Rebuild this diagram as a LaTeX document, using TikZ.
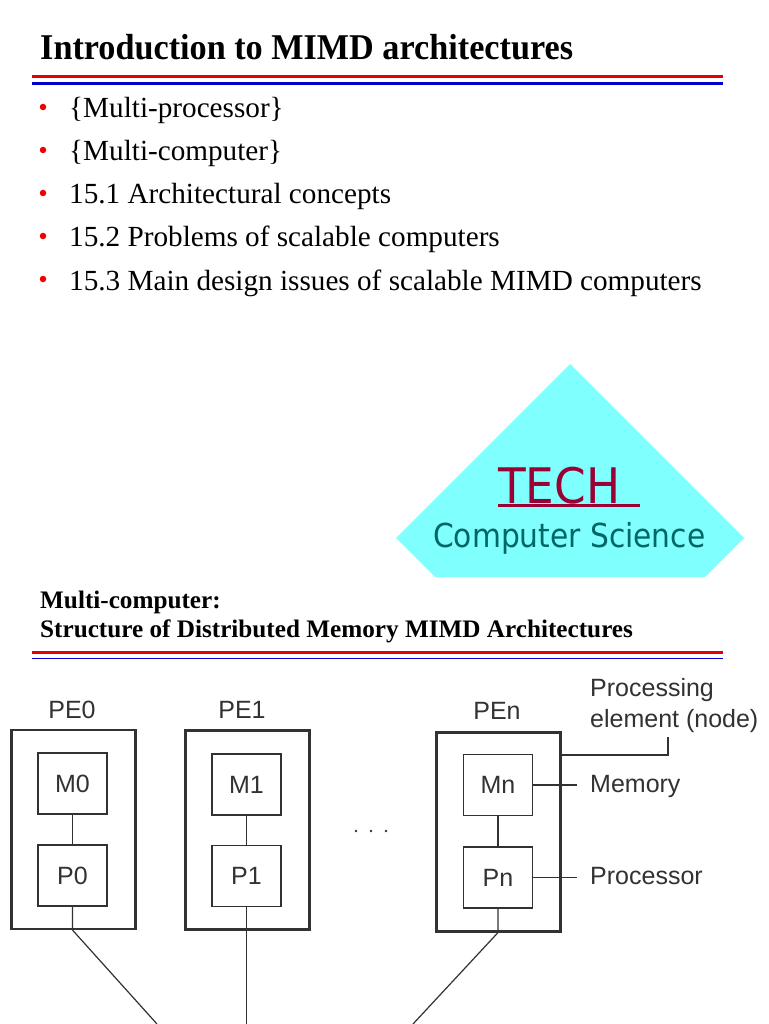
\documentclass[tikz,border=0pt]{standalone}
\usepackage{fontspec}
\setmainfont{Liberation Serif}
\newfontfamily\diafont{Liberation Sans}
\newfontfamily\techfont{DejaVu Sans}
\definecolor{slidered}{RGB}{226,0,0}
\definecolor{slideblue}{RGB}{0,0,204}
\definecolor{bulletred}{RGB}{240,0,0}
\definecolor{techcyan}{RGB}{128,255,255}
\definecolor{techred}{RGB}{153,0,51}
\definecolor{techteal}{RGB}{0,102,102}
\definecolor{diagray}{RGB}{50,50,50}
\tikzset{
  titletext/.style={anchor=base west, inner sep=0, font=\bfseries\fontsize{34.2}{40}\selectfont},
  subtext/.style={anchor=base west, inner sep=0, font=\bfseries\fontsize{25.2}{29}\selectfont},
  itemtext/.style={anchor=base west, inner sep=0, font=\fontsize{29.2}{34}\selectfont},
  bulletdot/.style={circle, fill=bulletred, inner sep=0, minimum size=6.5},
  pebox/.style={draw=diagray, line width=2.1, inner sep=0, minimum width=124, minimum height=199},
  unitbox/.style={draw=diagray, line width=1.6, inner sep=0, minimum width=69, minimum height=61,
                  font=\diafont\fontsize{25}{29}\selectfont, text=diagray},
  pelabel/.style={anchor=base, inner sep=0, font=\diafont\fontsize{25}{29}\selectfont, text=diagray},
  sidelabel/.style={anchor=base west, inner sep=0, font=\diafont\fontsize{25}{29}\selectfont, text=diagray},
  wire/.style={draw=diagray, line width=1.2},
  dotnode/.style={circle, fill=diagray, inner sep=0, minimum size=2.8},
}
\begin{document}
\begin{tikzpicture}[x=1pt, y=-1pt]
\useasboundingbox[fill=white] (0,0) rectangle (768,1024);

% ---- title ----
\node[titletext] (title) at (40,60) {\scalebox{1}[1.06]{Introduction to MIMD architectures}};
\draw[slidered, line width=3.8] (32,76.5) -- (723,76.5);
\draw[slideblue, line width=2.7] (32,83.3) -- (723,83.3);

% ---- bullets ----
\node[itemtext] (i1) at (69,118) {\{Multi-processor\}};
\node[itemtext] (i2) at (69,161) {\{Multi-computer\}};
\node[itemtext] (i3) at (69,204) {15.1 Architectural concepts};
\node[itemtext] (i4) at (69,247) {15.2 Problems of scalable computers};
\node[itemtext] (i5) at (69,290) {15.3 Main design issues of scalable MIMD computers};
\node[bulletdot] (b1) at (43,107) {};
\node[bulletdot] (b2) at (43,150) {};
\node[bulletdot] (b3) at (43,193) {};
\node[bulletdot] (b4) at (43,236) {};
\node[bulletdot] (b5) at (43,279) {};

% ---- TECH badge ----
\fill[techcyan] (570,364) -- (744,538) -- (705,577) -- (435,577) -- (396,538) -- cycle;
\node[anchor=base west, inner sep=0, text=techred] (tech) at (498,503)
  {\scalebox{0.925}[1]{\techfont\fontsize{49}{56}\selectfont TECH}};
\draw[techred, line width=2.4] (tech.base west) ++(0,2.5) -- ++(142,0);
\node[anchor=base west, inner sep=0, text=techteal] (cs) at (433,547)
  {\scalebox{0.9}[1]{\techfont\fontsize{33}{38}\selectfont Computer Science}};

% ---- second header ----
\node[subtext] (sub1) at (40,608) {Multi-computer:};
\node[subtext] (sub2) at (40,637) {Structure of Distributed Memory MIMD Architectures};
\draw[slidered, line width=3.4] (32,652.3) -- (723,652.3);
\draw[slideblue, line width=1.3] (32,658.2) -- (723,658.2);

% ---- diagram ----
\node[pebox] (PE0) at (73.5,829.5) {};
\node[pebox] (PE1) at (247.5,830) {};
\node[pebox] (PEn) at (498.5,832) {};
\node[pelabel] (l0) at (72,718) {PE0};
\node[pelabel] (l1) at (242,718) {PE1};
\node[pelabel] (ln) at (497,719) {PEn};

\node[unitbox] (M0) at (72.5,783.5) {M0};
\node[unitbox] (P0) at (72.5,875.5) {P0};
\node[unitbox] (M1) at (246.5,784.5) {M1};
\node[unitbox] (P1) at (246.5,876) {P1};
\node[unitbox] (Mn) at (498,785) {Mn};
\node[unitbox] (Pn) at (498,877.5) {Pn};

\draw[wire] (M0) -- (P0);
\draw[wire] (M1) -- (P1);
\draw[wire] (Mn) -- (Pn);

\coordinate (e0) at (157,1024);
\coordinate (e1) at (248.5,1024);
\coordinate (en) at (413,1024);
\draw[wire] (P0.south) -- (P0.south |- PE0.south) -- (e0);
\draw[wire] (P1.south) -- (P1.south |- e1);
\draw[wire] (Pn.south) -- (Pn.south |- PEn.south) -- (en);

\node[dotnode] (d1) at (356,831) {};
\node[dotnode] (d2) at (371,831) {};
\node[dotnode] (d3) at (386,831) {};

% ---- side labels ----
\node[sidelabel] (lp1) at (590,696) {Processing};
\node[sidelabel] (lp2) at (590,727) {element (node)};
\node[sidelabel] (lm) at (590,792) {Memory};
\node[sidelabel] (lpr) at (590,884) {Processor};
\coordinate (lead) at (668,755);
\coordinate (leadtop) at (668,737);
\coordinate (mend) at (577,785);
\coordinate (pend) at (577,877.5);
\draw[wire] (PEn.east |- lead) -- (lead) -- (leadtop);
\draw[wire] (Mn.east) -- (mend);
\draw[wire] (Pn.east) -- (pend);
\end{tikzpicture}
\end{document}
